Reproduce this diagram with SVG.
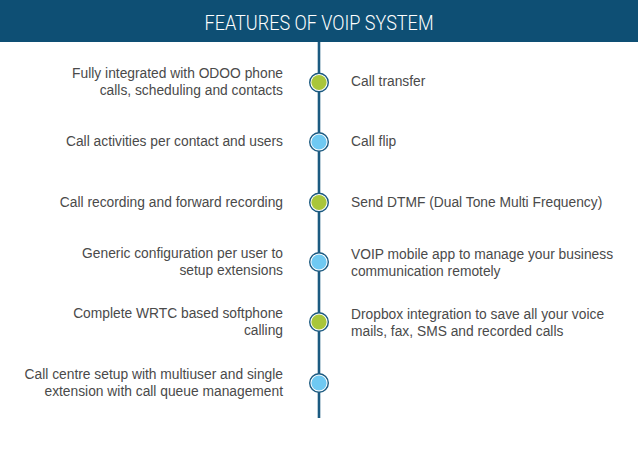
<svg xmlns="http://www.w3.org/2000/svg" width="638" height="451" viewBox="0 0 638 451">
  <style>
    .title { font-family: Roboto, "Liberation Sans", Arial, sans-serif; font-size: 21px; fill: #ffffff; font-weight: 300; }
    .t { font-family: "Liberation Sans", Arial, sans-serif; font-size: 13.8px; fill: #4a4a4a; }
    .l { text-anchor: end; }
    .ring { fill: #ffffff; stroke: #1b5a80; stroke-width: 1.4; }
    .green { fill: #a9c63a; }
    .blue { fill: #6fc9f2; }
    .line { stroke: #1b5a80; stroke-width: 2.6; fill: none; }
  </style>
  <rect width="638" height="451" fill="#ffffff"/>
  <g id="header">
    <rect x="0" y="0" width="638" height="42" fill="#0e4f74"/>
    <text class="title" x="319" y="29.5" text-anchor="middle" textLength="229" lengthAdjust="spacingAndGlyphs">FEATURES OF VOIP SYSTEM</text>
  </g>
  <g id="connectors">
    <line class="line" x1="319" y1="42" x2="319" y2="418"/>
  </g>
  <g id="node1">
    <circle class="ring" cx="319" cy="82.5" r="9.3"/>
    <circle class="green" cx="319" cy="82.5" r="7.6"/>
    <text class="t l" x="283" y="78">Fully integrated with ODOO phone</text>
    <text class="t l" x="283" y="95">calls, scheduling and contacts</text>
    <text class="t" x="351" y="86">Call transfer</text>
  </g>
  <g id="node2">
    <circle class="ring" cx="319" cy="142" r="9.3"/>
    <circle class="blue" cx="319" cy="142" r="7.6"/>
    <text class="t l" x="283" y="146">Call activities per contact and users</text>
    <text class="t" x="351" y="146">Call flip</text>
  </g>
  <g id="node3">
    <circle class="ring" cx="319" cy="202.5" r="9.3"/>
    <circle class="green" cx="319" cy="202.5" r="7.6"/>
    <text class="t l" x="283" y="207">Call recording and forward recording</text>
    <text class="t" x="351" y="207">Send DTMF (Dual Tone Multi Frequency)</text>
  </g>
  <g id="node4">
    <circle class="ring" cx="319" cy="262" r="9.3"/>
    <circle class="blue" cx="319" cy="262" r="7.6"/>
    <text class="t l" x="283" y="258">Generic configuration per user to</text>
    <text class="t l" x="283" y="275">setup extensions</text>
    <text class="t" x="351" y="259">VOIP mobile app to manage your business</text>
    <text class="t" x="351" y="276">communication remotely</text>
  </g>
  <g id="node5">
    <circle class="ring" cx="319" cy="322" r="9.3"/>
    <circle class="green" cx="319" cy="322" r="7.6"/>
    <text class="t l" x="283" y="318">Complete WRTC based softphone</text>
    <text class="t l" x="283" y="335">calling</text>
    <text class="t" x="351" y="319">Dropbox integration to save all your voice</text>
    <text class="t" x="351" y="336">mails, fax, SMS and recorded calls</text>
  </g>
  <g id="node6">
    <circle class="ring" cx="319" cy="383" r="9.3"/>
    <circle class="blue" cx="319" cy="383" r="7.6"/>
    <text class="t l" x="283" y="379">Call centre setup with multiuser and single</text>
    <text class="t l" x="283" y="396">extension with call queue management</text>
  </g>
</svg>
